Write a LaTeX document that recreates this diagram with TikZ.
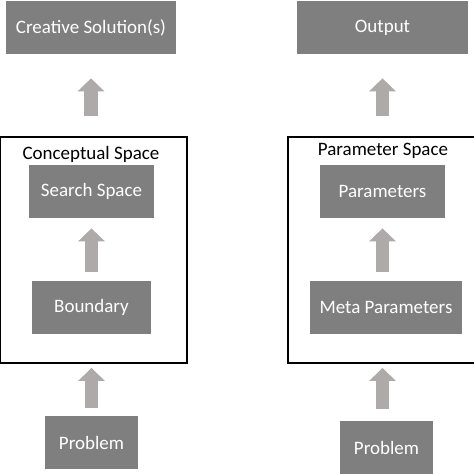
\documentclass[tikz,border=0pt]{standalone}
\usepackage{fontspec}
\setmainfont{Carlito}
\usepackage{xcolor}
\usepackage{tikz}
\usetikzlibrary{arrows.meta, positioning}

\definecolor{boxgray}{HTML}{7F7F7F}
\definecolor{arrowgray}{HTML}{AEAAAA}

\begin{document}
\begin{tikzpicture}[
    txt/.style={font=\fontsize{10.8}{13}\selectfont},
    graybox/.style={txt, fill=boxgray, text=white, minimum height=1.06cm, inner sep=0pt},
    spacebox/.style={draw=black, line width=1.1pt, inner sep=0pt},
    bigarrow/.style={arrowgray, line width=0.27cm, -{Triangle[width=0.52cm, length=0.26cm]}}
]
    \useasboundingbox (0,0) rectangle (9.48,9.48);
    \clip (0,0) rectangle (9.48,9.48);

    % 1. Hai khung lớn
    \node[spacebox, minimum width=3.74cm, minimum height=4.52cm] (cspace) at (1.87,4.48) {};
    \node[spacebox, minimum width=4.20cm, minimum height=4.52cm] (pspace) at (7.86,4.48) {};
    \node[txt] (clabel) at (1.82,6.40) {Conceptual Space};
    \node[txt] (plabel) at (7.66,6.46) {Parameter Space};

    % 2. Cột trái
    \node[graybox, minimum width=3.40cm] (creative) at (1.82,8.93) {Creative Solution(s)};
    \node[graybox, minimum width=2.50cm] (search) at (1.83,5.65) {Search Space};
    \node[graybox, minimum width=2.38cm] (bound) at (1.83,3.33) {Boundary};
    \node[graybox, minimum width=1.86cm] (probA) at (1.83,0.63) {Problem};

    % 3. Cột phải
    \node[graybox, minimum width=3.42cm] (output) at (7.65,8.93) {Output};
    \node[graybox, minimum width=2.50cm] (param) at (7.65,5.65) {Parameters};
    \node[graybox, minimum width=3.04cm] (meta) at (7.72,3.33) {Meta Parameters};
    \node[graybox, minimum width=1.86cm] (probB) at (7.73,0.52) {Problem};

    % 4. Các mũi tên
    \draw[bigarrow, shorten <=0.16cm, shorten >=0.08cm] (probA.north) -- (probA.north |- cspace.south);
    \draw[bigarrow, shorten <=0.18cm, shorten >=0.20cm] (bound) -- (search);
    \draw[bigarrow, shorten <=0.40cm, shorten >=0.48cm] (creative.south |- cspace.north) -- (creative.south);

    \draw[bigarrow, shorten <=0.24cm, shorten >=0.08cm] (probB.north -| param.south) -- (param.south |- pspace.south);
    \draw[bigarrow, shorten <=0.18cm, shorten >=0.20cm] (meta.north -| param.south) -- (param.south);
    \draw[bigarrow, shorten <=0.40cm, shorten >=0.48cm] (output.south |- pspace.north) -- (output.south);
\end{tikzpicture}
\end{document}
